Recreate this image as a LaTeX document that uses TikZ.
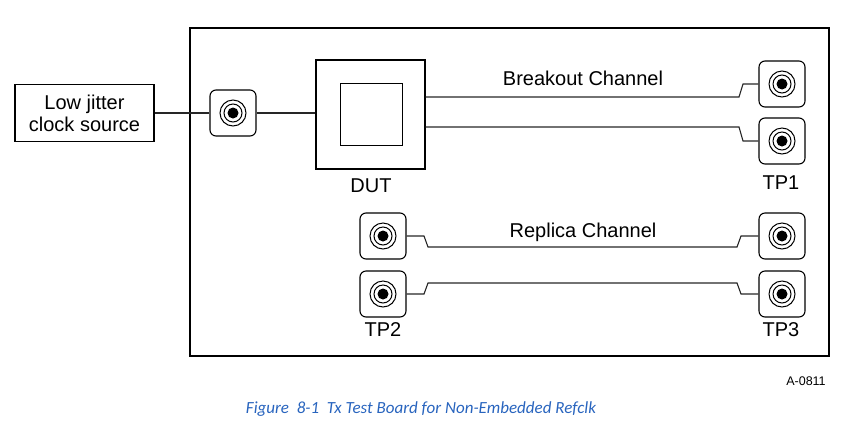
\documentclass[tikz,border=0pt]{standalone}
\usepackage{fontspec}
\setmainfont{Liberation Sans}
\newfontfamily\capfont{Carlito}
\begin{document}
\begin{tikzpicture}[x=1pt,y=-1pt,line width=1.3pt,
  conn/.style={draw,rounded corners=6pt,minimum size=46pt,inner sep=0pt,line width=1.1pt},
  lab/.style={font=\fontsize{20}{24}\selectfont},
  wire/.style={line width=1.1pt,black!85}]
\useasboundingbox (0,0) rectangle (853,429);
\def\coax#1#2#3{\node[conn] (#1) at (#2,#3) {};
  \draw[line width=1pt] (#2,#3) circle (13) (#2,#3) circle (9);
  \fill (#2,#3) circle (5.5);}
\draw (190,28) rectangle (829,356);
\node[draw,minimum width=139pt,minimum height=57pt,align=center,lab] (clk) at (84.5,113) {Low jitter\\[-2pt]clock source};
\coax{c0}{233}{113}
\node[draw,minimum size=109pt,inner sep=0pt] (dut) at (370.5,114.5) {};
\node[draw,line width=1pt,minimum size=62pt,inner sep=0pt] (duti) at (371,114) {};
\node[lab] (dutl) at (371,186) {DUT};
\coax{r1}{782}{84}
\coax{r2}{782}{141}
\coax{l3}{383}{236}
\coax{r3}{782}{236}
\coax{l4}{383}{294}
\coax{r4}{782}{294}
\draw[wire] (clk.east) -- (c0.west);
\draw[wire] (c0.east) -- (dut.west |- c0.east);
\draw[wire] (dut.east |- 0,97) -- (739,97) -- (743,84) -- (r1.west);
\draw[wire] (dut.east |- 0,127) -- (739,127) -- (743,141) -- (r2.west);
\draw[wire] (l3.east) -- (424,236) -- (428,247) -- (737,247) -- (741,236) -- (r3.west);
\draw[wire] (l4.east) -- (424,294) -- (428,283) -- (737,283) -- (741,294) -- (r4.west);
\node[lab] (bc) at (583,78) {Breakout Channel};
\node[lab] (rc) at (583,232) {Replica Channel};
\node[lab] (tp1) at (781,183) {TP1};
\node[lab] (tp2) at (383,330) {TP2};
\node[lab] (tp3) at (781,330) {TP3};
\node[font=\fontsize{12.5}{14}\selectfont] (id) at (806,381) {A-0811};
\node[font=\capfont\itshape\fontsize{17}{20}\selectfont,text={rgb,255:red,40;green,100;blue,190}] (cap) at (421,409) {Figure\ \ 8-1\ \ Tx Test Board for Non-Embedded Refclk};
\end{tikzpicture}
\end{document}
